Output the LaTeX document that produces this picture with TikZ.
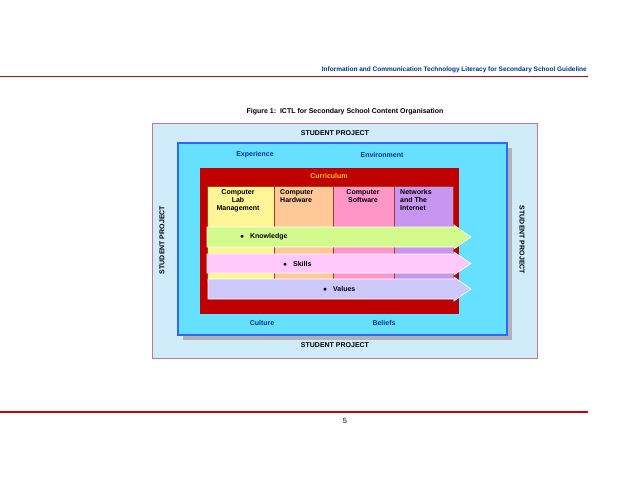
\documentclass[tikz,border=0pt]{standalone}
\usepackage{fontspec}
\setmainfont{Liberation Sans}
\definecolor{dblue}{RGB}{0,51,153}
\definecolor{lbg}{RGB}{208,236,250}
\definecolor{lbd}{RGB}{200,120,130}
\definecolor{cyanf}{RGB}{102,224,255}
\definecolor{bluef}{RGB}{51,102,255}
\definecolor{redf}{RGB}{192,0,0}
\definecolor{colb}{RGB}{170,60,30}
\definecolor{c1}{RGB}{255,245,150}
\definecolor{c2}{RGB}{255,200,150}
\definecolor{c3}{RGB}{255,150,200}
\definecolor{c4}{RGB}{200,150,240}
\definecolor{a1}{RGB}{210,250,140}
\definecolor{a2}{RGB}{255,200,250}
\definecolor{a3}{RGB}{205,200,250}
\definecolor{curc}{RGB}{255,200,0}
\begin{document}
\begin{tikzpicture}[x=1pt,y=-1pt,font=\fontsize{7}{8.2}\selectfont\bfseries,
  lbl/.style={inner sep=0pt,text=black},
  blu/.style={inner sep=0pt,text=dblue},
  col/.style={draw=colb,line width=0.4pt},
  arr/.style={draw=white,line width=0.6pt}]
\useasboundingbox (0,0) rectangle (638,493);
\fill[white] (0,0) rectangle (638,493);
\node[blu,anchor=east,font=\fontsize{6.5}{7.5}\selectfont\bfseries] (hd) at (587,70) {Information and Communication Technology Literacy for Secondary School Guideline};
\draw[red!80!black,line width=1.2pt] (0,76.5) -- (588,76.5);
\node[lbl] (cap) at (345,112) {Figure 1:\ \ ICTL for Secondary School Content Organisation};
\draw[fill=lbg,draw=lbd] (152,123) rectangle (537,358);
\fill[gray!60] (183,148) rectangle (512,340);
\draw[fill=cyanf,draw=bluef,line width=2.5pt] (178,143) rectangle (507,335);
\fill[redf] (200,168) rectangle (459,314);
\draw[col,fill=c1] (207,186) rectangle (274,281);
\draw[col,fill=c2] (274,186) rectangle (333,281);
\draw[col,fill=c3] (333,186) rectangle (394,281);
\draw[col,fill=c4] (394,186) rectangle (453,281);
\draw[arr,fill=a1] (207,227) -- (454,227) -- (454,225) -- (471,237) -- (454,249) -- (454,247) -- (207,247) -- cycle;
\draw[arr,fill=a2] (207,254) -- (454,254) -- (454,252) -- (471,263.5) -- (454,275) -- (454,273) -- (207,273) -- cycle;
\draw[arr,fill=a3] (208,279) -- (454,279) -- (454,277) -- (471,289) -- (454,301) -- (454,299) -- (208,299) -- cycle;
\node[lbl] (sp1) at (335,133) {STUDENT PROJECT};
\node[lbl] (sp2) at (335,345) {STUDENT PROJECT};
\node[lbl,rotate=90] (sp3) at (162,240) {STUDENT PROJECT};
\node[lbl,rotate=-90] (sp4) at (522,240) {STUDENT PROJECT};
\node[blu] (ex) at (255,155) {Experience};
\node[blu] (en) at (382,155) {Environment};
\node[blu] (cu) at (262,323) {Culture};
\node[blu] (be) at (384,323) {Beliefs};
\node[inner sep=0pt,text=curc] (cur) at (329,176) {Curriculum};
\node[lbl,align=center,anchor=north] (k1) at (238,189) {Computer\\Lab\\Management};
\node[lbl,align=left,anchor=north west] (k2) at (280,189) {Computer\\Hardware};
\node[lbl,align=center,anchor=north] (k3) at (363,189) {Computer\\Software};
\node[lbl,align=left,anchor=north west] (k4) at (400,189) {Networks\\and The\\Internet};
\node[lbl,anchor=west] (k) at (240,237) {$\bullet$\ \ \ Knowledge};
\node[lbl,anchor=west] (s) at (283,263.5) {$\bullet$\ \ \ Skills};
\node[lbl,anchor=west] (v) at (323,289) {$\bullet$\ \ \ Values};
\draw[red!80!black,line width=1.2pt] (0,412) -- (588,412);
\node[inner sep=0pt,font=\fontsize{7.5}{8}\selectfont] (pg) at (345,421) {5};
\end{tikzpicture}
\end{document}
